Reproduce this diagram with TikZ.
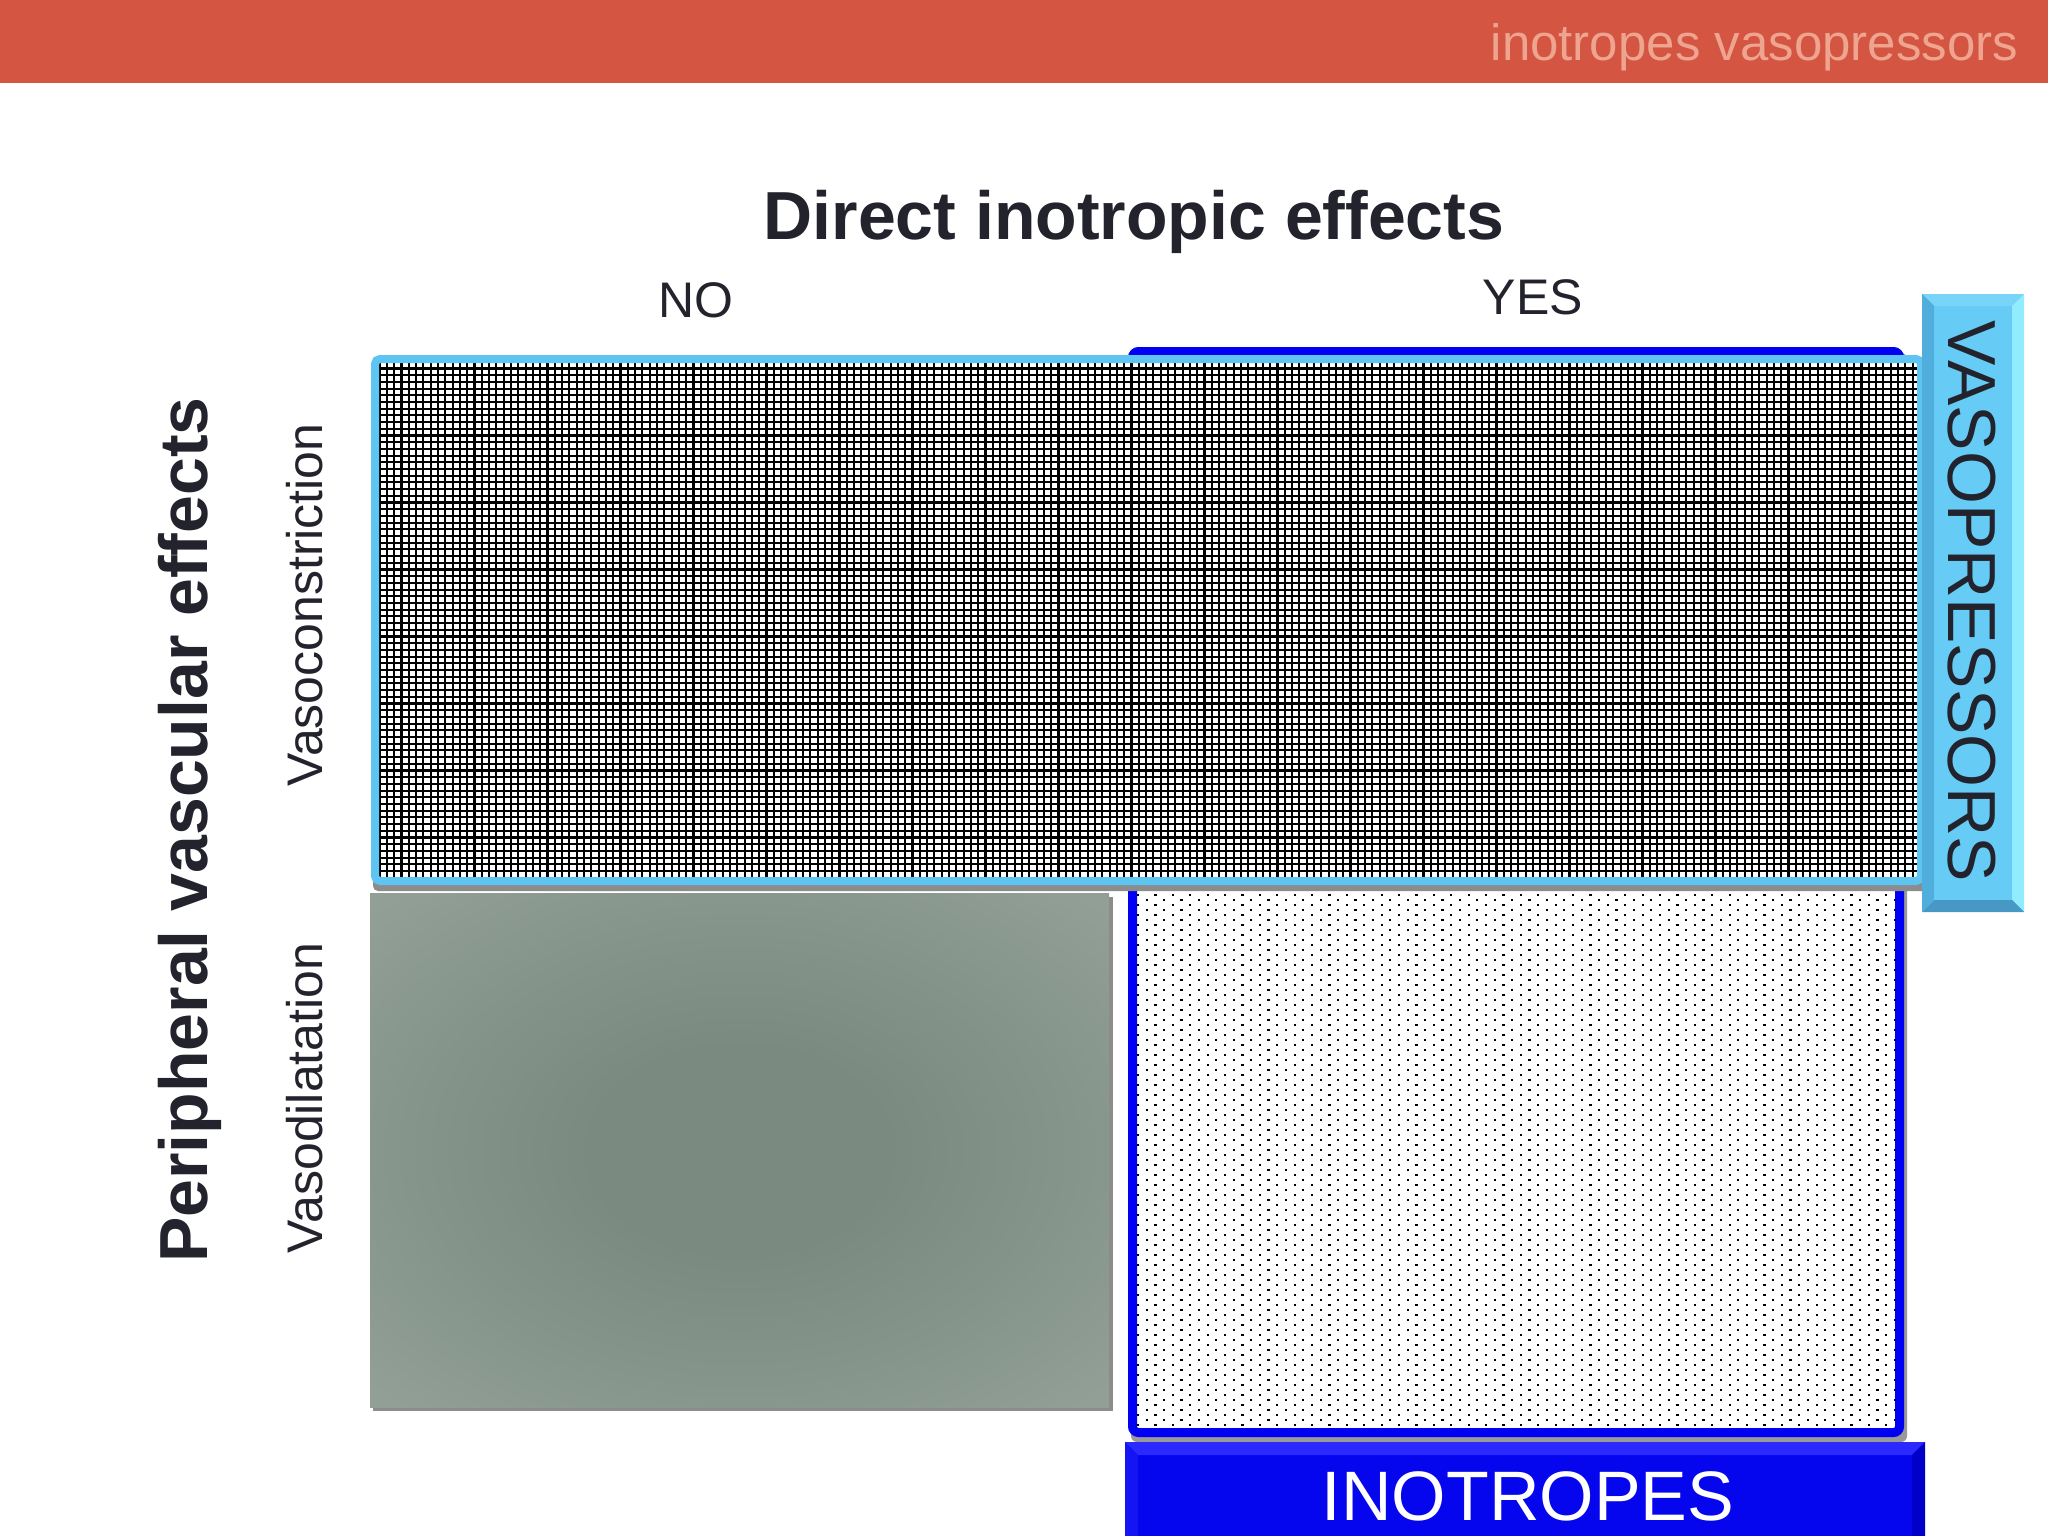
\documentclass[tikz,border=0pt]{standalone}
\usepackage{fontspec}
\setmainfont{Liberation Sans}
\definecolor{hdr}{HTML}{D35542}
\definecolor{hdrtxt}{HTML}{EEA48F}
\definecolor{ink}{HTML}{23232D}
\definecolor{lblue}{HTML}{5EC5F2}
\definecolor{vfill}{HTML}{66CCF6}
\definecolor{vtop}{HTML}{78D4F8}
\definecolor{vright}{HTML}{92ECFF}
\definecolor{vbot}{HTML}{4898C6}
\definecolor{vleft}{HTML}{4FAEDC}
\definecolor{pblue}{HTML}{0000F5}
\definecolor{iblue}{HTML}{0606EE}
\definecolor{itop}{HTML}{2A2AFF}
\definecolor{ileft}{HTML}{1414F4}
\definecolor{iright}{HTML}{0000C8}
\definecolor{gcen}{HTML}{7A8A80}
\definecolor{gedge}{HTML}{919F96}
\pgfdeclareradialshading{grayglow}{\pgfpoint{0bp}{0bp}}{color(0bp)=(gcen); color(10bp)=(gcen); color(34bp)=(gedge); color(50bp)=(gedge)}
\tikzset{
  lbl/.style={inner sep=0pt, outer sep=0pt, text=ink},
  bigbold/.style={font=\fontsize{68}{80}\selectfont\bfseries},
  midtxt/.style={font=\fontsize{50}{60}\selectfont},
}
\begin{document}
\begin{tikzpicture}[x=1pt,y=-1pt]
\useasboundingbox (0,0) rectangle (2048,1536);
\fill[white] (0,0) rectangle (2048,1536);
% header
\fill[hdr] (0,0) rectangle (2048,83);
\node[lbl, anchor=base east, text=hdrtxt, font=\fontsize{51}{60}\selectfont] (hdrtext) at (2018,61) {inotropes vasopressors};
% titles
\node[lbl, bigbold, anchor=base] (title) at (1134,239) {Direct inotropic effects};
\node[lbl, midtxt, anchor=base] (no) at (696,317) {NO};
\node[lbl, midtxt, anchor=base] (yes) at (1533,314) {YES};
\node[lbl, bigbold, anchor=base, rotate=90] (periph) at (207,830) {Peripheral vascular effects};
\node[lbl, midtxt, anchor=base, rotate=90] (vcon) at (322,605) {Vasoconstriction};
\node[lbl, midtxt, anchor=base, rotate=90] (vdil) at (322,1098) {Vasodilatation};
% dotted (inotropes) box
\fill[black!40, rounded corners=6pt] (1131,353) rectangle (1907,1442);
\filldraw[draw=pblue, fill=white, line width=9pt, rounded corners=6pt] (1132.5,351.5) rectangle (1899.5,1432.5);
\begin{scope}
\clip (1137,886) rectangle (1895,1428);
\foreach \i in {0,...,87} {
  \pgfmathsetmacro\ph{mod(\i,2)*5}
  \draw[line width=2.2pt, dash pattern=on 2.2pt off 7.8pt, dash phase=\ph pt] (1138+\i*8.7,884) -- (1138+\i*8.7,1432);
}
\end{scope}
% grid (vasopressor) box
\fill[black!45, rounded corners=5pt] (373,358) rectangle (1927,891);
\fill[white] (379,363) rectangle (1917,877);
\begin{scope}
\clip (379,363) rectangle (1917,877);
\draw[line width=2.1pt, xstep=7.3pt, ystep=6.7pt] (379,363) grid (1917,877);
\end{scope}
\draw[lblue, line width=8pt, rounded corners=5pt] (375,359) rectangle (1921,881);
% gray box
\fill[black!45] (373,897) rectangle (1113,1411);
\shade[shading=grayglow] (370,893) rectangle (1109,1407);
% VASOPRESSORS label box
\fill[vfill] (1922,294) rectangle (2024,912);
\fill[vtop] (1922,294) -- (2024,294) -- (2012,306) -- (1934,306) -- cycle;
\fill[vright] (2024,294) -- (2024,912) -- (2012,900) -- (2012,306) -- cycle;
\fill[vbot] (1922,912) -- (2024,912) -- (2012,900) -- (1934,900) -- cycle;
\fill[vleft] (1922,294) -- (1934,306) -- (1934,900) -- (1922,912) -- cycle;
\node[lbl, rotate=-90, font=\fontsize{68}{80}\selectfont] (vaso) at (1972,601) {VASOPRESSORS};
% INOTROPES label box
\fill[iblue] (1125,1442) rectangle (1925,1540);
\fill[itop] (1125,1442) -- (1925,1442) -- (1912,1455) -- (1138,1455) -- cycle;
\fill[ileft] (1125,1442) -- (1138,1455) -- (1138,1540) -- (1125,1540) -- cycle;
\fill[iright] (1925,1442) -- (1925,1540) -- (1912,1540) -- (1912,1455) -- cycle;
\node[lbl, anchor=base, text=white, font=\fontsize{70}{80}\selectfont] (ino) at (1528,1520) {INOTROPES};
\end{tikzpicture}
\end{document}
